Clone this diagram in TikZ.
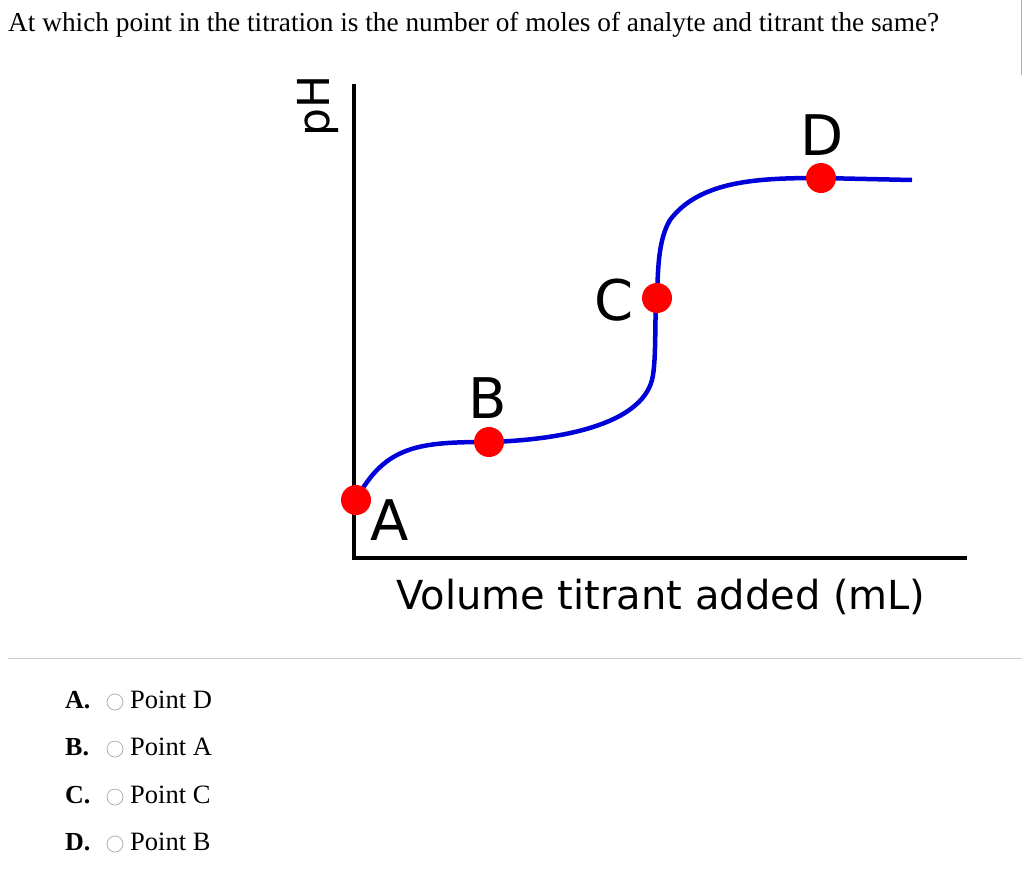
\documentclass[tikz,border=0pt]{standalone}
\usepackage{fontspec}
\setmainfont{Liberation Serif}
\newfontfamily\dv{DejaVu Sans}
\begin{document}
\begin{tikzpicture}[x=1pt,y=-1pt,
  dot/.style={circle,fill=red,inner sep=0pt,minimum width=27pt,minimum height=30pt},
  lbl/.style={font=\dv\fontsize{56}{60}\selectfont,inner sep=0pt},
  opt/.style={font=\fontsize{26.5}{29}\selectfont,anchor=base west,inner sep=0pt},
  optl/.style={font=\bfseries\fontsize{26}{29}\selectfont,anchor=base west,inner sep=0pt},
  radio/.style={circle,draw=gray!60,line width=0.8pt,minimum size=16pt,inner sep=0pt}]
\useasboundingbox[fill=white] (0,0) rectangle (1024,873);
\node[anchor=base west,inner sep=0pt,font=\fontsize{27.3}{30}\selectfont] (title) at (8,31) {At which point in the titration is the number of moles of analyte and titrant the same?};
\draw[gray!60,line width=1pt] (1021,0) -- (1021,75);
\draw[gray!40,line width=1pt] (8,658) -- (1022,658);
% axes
\coordinate (top) at (354,84);
\coordinate (orig) at (354,558);
\coordinate (xend) at (967,558);
\draw[line width=4.5pt] (top) -- (orig) -- (xend);
\node[font=\dv\fontsize{44}{48}\selectfont,rotate=90,inner sep=0pt] (ph) at (318,106) {pH};
\node[font=\dv\fontsize{40}{44}\selectfont,inner sep=0pt] (vol) at (661,597) {Volume titrant added (mL)};
% curve
\coordinate (A) at (356,500);
\coordinate (B) at (489,442);
\coordinate (C) at (657,298);
\coordinate (D) at (821,178);
\draw[blue!85!black,line width=4.5pt] (A) .. controls (385,445) and (420,442) .. (B)
  .. controls (560,440) and (640,425) .. (652,380)
  .. controls (657,360) and (654,310) .. (C)
  .. controls (658,270) and (658,240) .. (670,220)
  .. controls (700,180) and (760,178) .. (D) -- (912,180);
\node[dot] (dA) at (A) {};
\node[dot] (dB) at (B) {};
\node[dot] (dC) at (C) {};
\node[dot] (dD) at (D) {};
\node[lbl] (lA) at (390,520) {A};
\node[lbl] (lB) at (488,398) {B};
\node[lbl] (lC) at (614,300) {C};
\node[lbl] (lD) at (822,135) {D};
% options
\foreach \y/\l/\t [count=\i] in {708/A/D,755/B/A,803/C/C,850/D/B}{
  \node[optl] (ol\i) at (65,\y) {\l.};
  \node[radio] (or\i) at (115,\y-6) {};
  \node[opt] (ot\i) at (130,\y) {Point \t};
}
\end{tikzpicture}
\end{document}
